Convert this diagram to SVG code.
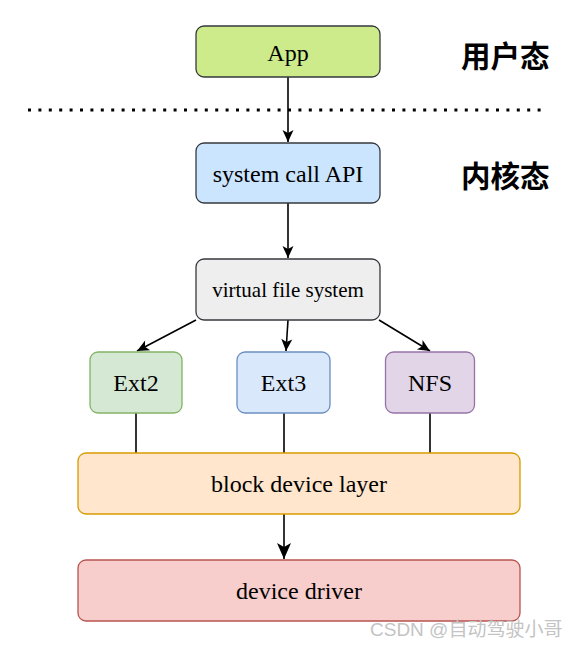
<svg xmlns="http://www.w3.org/2000/svg" width="577" height="646" viewBox="0 0 577 646">
<style>
.box{stroke-width:1.3}
.lbl{font-family:"Liberation Serif","Times New Roman",serif;font-size:24px;fill:#000;text-anchor:middle}
.cn{font-family:"Noto Sans CJK SC",sans-serif;font-size:29.5px;font-weight:bold;fill:#000}
.edge{stroke:#000;stroke-width:1.6;fill:none}
</style>
<defs>
<marker id="arr" markerUnits="userSpaceOnUse" markerWidth="14" markerHeight="14" viewBox="0 0 14 14" refX="13" refY="7" orient="auto">
<path d="M1,1.5 L13,7 L1,12.5 L4,7 Z" fill="#000"/>
</marker>
<marker id="arr2" markerUnits="userSpaceOnUse" markerWidth="18" markerHeight="18" viewBox="0 0 18 18" refX="17" refY="9" orient="auto">
<path d="M1,2 L17,9 L1,16 L5,9 Z" fill="#000"/>
</marker>
</defs>
<rect width="577" height="646" fill="#fff"/>
<line x1="28" y1="110" x2="548" y2="110" stroke="#000" stroke-width="3" stroke-dasharray="3 7.4"/>
<g id="connectors">
<line class="edge" x1="288" y1="77" x2="288" y2="142" marker-end="url(#arr)"/>
<line class="edge" x1="288" y1="203" x2="288" y2="258" marker-end="url(#arr)"/>
<line class="edge" x1="196" y1="320" x2="137" y2="351" marker-end="url(#arr)"/>
<line class="edge" x1="288" y1="320" x2="286" y2="351" marker-end="url(#arr)"/>
<line class="edge" x1="379" y1="320" x2="430" y2="351" marker-end="url(#arr)"/>
<line class="edge" x1="136" y1="413" x2="136" y2="453"/>
<line class="edge" x1="284" y1="413" x2="284" y2="453"/>
<line class="edge" x1="430" y1="413" x2="430" y2="453"/>
<line class="edge" x1="284" y1="514" x2="284" y2="559" stroke-width="3" marker-end="url(#arr2)"/>
</g>
<g id="app"><rect class="box" x="196" y="26" width="184" height="51" rx="8" fill="#cdeb8b" stroke="#36393d"/><text class="lbl" x="288" y="61">App</text></g>
<g id="syscall"><rect class="box" x="196" y="143" width="184" height="60" rx="8" fill="#cce5ff" stroke="#36393d"/><text class="lbl" x="288" y="181.5">system call API</text></g>
<g id="vfs"><rect class="box" x="196" y="259" width="184" height="61" rx="8" fill="#eeeeee" stroke="#36393d"/><text class="lbl" x="288" y="297" style="font-size:21px">virtual file system</text></g>
<g id="ext2"><rect class="box" x="90" y="352" width="92" height="61" rx="8" fill="#d5e8d4" stroke="#82b366"/><text class="lbl" x="136" y="391">Ext2</text></g>
<g id="ext3"><rect class="box" x="237" y="352" width="93" height="61" rx="8" fill="#dae8fc" stroke="#6c8ebf"/><text class="lbl" x="283.5" y="391">Ext3</text></g>
<g id="nfs"><rect class="box" x="385.5" y="352" width="89" height="61" rx="8" fill="#e1d5e7" stroke="#9673a6"/><text class="lbl" x="430" y="391">NFS</text></g>
<g id="block"><rect class="box" x="78" y="453" width="442" height="61" rx="8" fill="#ffe6cc" stroke="#d79b00"/><text class="lbl" x="299" y="492">block device layer</text></g>
<g id="driver"><rect class="box" x="78" y="560" width="442" height="61" rx="8" fill="#f8cecc" stroke="#b85450"/><text class="lbl" x="299" y="599">device driver</text></g>
<g id="labels">
<text class="cn" x="461" y="67">用户态</text>
<text class="cn" x="461" y="187">内核态</text>
</g>
<text x="370" y="636" style="font-family:'Liberation Sans','Noto Sans CJK SC',sans-serif;font-size:19px;fill:#c4c4c4">CSDN @自动驾驶小哥</text>
</svg>
